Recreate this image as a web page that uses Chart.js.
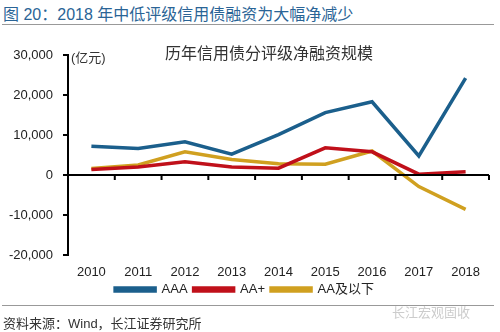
<!DOCTYPE html>
<html>
<head>
<meta charset="utf-8">
<script src="https://cdn.jsdelivr.net/npm/chart.js@4"></script>
<style>
    body { margin: 0; background: #fff; font-family: "Liberation Sans", "Noto Sans CJK SC", sans-serif; }
    #wrap { position: relative; width: 500px; height: 332px; overflow: hidden; }
    #head { position: absolute; left: 3px; top: 1px; font-size: 16px; color: #2a6496; font-family: "Liberation Sans", "Noto Sans CJK SC"; white-space: nowrap; }
    .rule { position: absolute; left: 2px; width: 492px; height: 1px; background: #999; }
    #src { position: absolute; left: 3px; top: 313px; font-size: 13px; color: #333; white-space: nowrap; }
    #mark { position: absolute; left: 392px; top: 302px; font-size: 13px; color: #ccc; white-space: nowrap; }
    #unit { position: absolute; left: 71px; top: 47px; font-size: 13px; color: #333; }
    #ctitle { position: absolute; left: 165px; top: 40px; font-size: 16px; color: #333; white-space: nowrap; }
    canvas { position: absolute; left: 0; top: 0; }
</style>
</head>
<body>
<div id="wrap">
    <div id="head">图 20：2018 年中低评级信用债融资为大幅净减少</div>
    <div class="rule" style="top:24px"></div>
    <canvas id="myChart" width="500" height="332"></canvas>
    <div id="unit">(亿元)</div>
    <div id="ctitle">历年信用债分评级净融资规模</div>
    <div class="rule" style="top:305px"></div>
    <div id="src">资料来源：Wind，长江证券研究所</div>
    <div id="mark">长江宏观固收</div>
</div>
<script>
const years = ['2010', '2011', '2012', '2013', '2014', '2015', '2016', '2017', '2018'];
const aaa = [7200, 6600, 8300, 5200, 10100, 15600, 18300, 4750, 24200];
const aaPlus = [1400, 2000, 3300, 2000, 1700, 6800, 5800, 200, 800];
const aaBelow = [1600, 2500, 5800, 3900, 2800, 2700, 6000, -2900, -8600];
const seriesNames = ['AAA', 'AA+', 'AA及以下'];
const seriesColors = ['#1b5f8c', '#c0101a', '#d0a020'];

// 零轴和刻度线
const zeroAxis = {
    id: 'zeroAxis',
    afterDatasetsDraw(chart) {
        const { ctx, chartArea, scales } = chart;
        const y0 = scales.y.getPixelForValue(0);
        const step = (chartArea.right - chartArea.left) / years.length;
        ctx.save();
        ctx.strokeStyle = '#000';
        ctx.lineWidth = 2;
        ctx.beginPath();
        ctx.moveTo(chartArea.left, y0);
        ctx.lineTo(chartArea.right, y0);
        for (let i = 1; i <= years.length; i++) {
            let x = chartArea.left + i * step;
            ctx.moveTo(x, y0);
            ctx.lineTo(x, y0 + 5);
        }
        ctx.stroke();
        ctx.restore();
    }
};

const allData = [aaa, aaPlus, aaBelow];
let datasets = [];
for (let i = 0; i < allData.length; i++) {
    datasets.push({
        label: seriesNames[i],
        data: allData[i],
        borderColor: seriesColors[i],
        backgroundColor: seriesColors[i],
        borderWidth: 3.5,
        pointRadius: 0,
        tension: 0
    });
}

const ctx = document.getElementById('myChart').getContext('2d');
new Chart(ctx, {
    type: 'line',
    data: { labels: years, datasets: datasets },
    plugins: [zeroAxis],
    options: {
        responsive: false,
        animation: false,
        layout: { padding: { top: 55, right: 11, bottom: 26, left: 0 } },
        scales: {
            x: {
                offset: true,
                grid: { display: false, offset: true },
                border: { display: false },
                ticks: { color: '#222', font: { size: 13, family: 'Liberation Sans' }, maxRotation: 0, padding: 2 },
                afterFit: function (scale) { scale.height = 22; }
            },
            y: {
                min: -20000,
                max: 30000,
                grid: { drawOnChartArea: false, drawTicks: true, tickLength: 5, color: '#000', lineWidth: 2 },
                border: { color: '#000', width: 2 },
                ticks: {
                    stepSize: 10000,
                    color: '#222',
                    padding: 10,
                    font: { size: 13, family: 'Liberation Sans' },
                    callback: function (v) { return v.toLocaleString('en-US'); }
                },
                afterFit: function (scale) { scale.width = 68; }
            }
        },
        plugins: {
            legend: {
                position: 'bottom',
                labels: {
                    boxWidth: 40,
                    boxHeight: 3,
                    padding: 6,
                    color: '#222',
                    font: { size: 13, family: 'Liberation Sans, Noto Sans CJK SC' }
                }
            },
            tooltip: { enabled: false }
        }
    }
});
</script>
</body>
</html>
